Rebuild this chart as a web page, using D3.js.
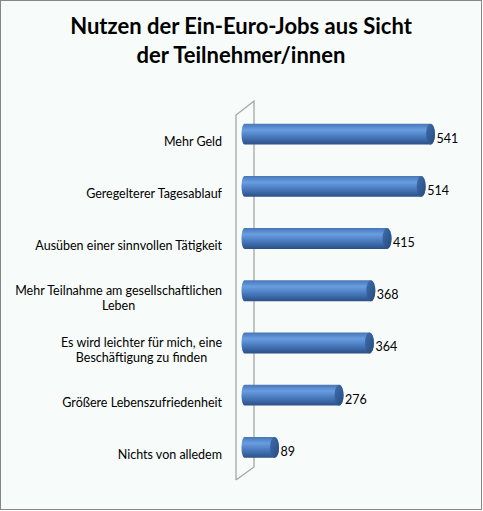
<!DOCTYPE html>
<html>
<head>
<meta charset="utf-8">
<script src="https://cdn.jsdelivr.net/npm/d3@7"></script>
<style>
  body { margin: 0; background: #fff; }
  svg { display: block; font-family: Lato, "Liberation Sans", sans-serif; }
</style>
</head>
<body>
<svg id="chart" width="483" height="511"></svg>
<script>
// data
const categories = [
    ["Mehr Geld"],
    ["Geregelterer Tagesablauf"],
    ["Ausüben einer sinnvollen Tätigkeit"],
    ["Mehr Teilnahme am gesellschaftlichen", "Leben"],
    ["Es wird leichter für mich, eine", "Beschäftigung zu finden"],
    ["Größere Lebenszufriedenheit"],
    ["Nichts von alledem"]
];
const values = [541, 514, 415, 368, 364, 276, 89];
const titleLines = ["Nutzen der Ein-Euro-Jobs aus Sicht", "der Teilnehmer/innen"];

const width = 483, height = 511;
const svg = d3.select("#chart");

// gradients for the cylinders
const defs = svg.append("defs");
let g1 = defs.append("linearGradient").attr("id", "barGrad")
    .attr("x1", 0).attr("y1", 0).attr("x2", 0).attr("y2", 1);
g1.append("stop").attr("offset", "0%").attr("stop-color", "#4576b8");
g1.append("stop").attr("offset", "30%").attr("stop-color", "#6a9ee0");
g1.append("stop").attr("offset", "55%").attr("stop-color", "#4f82c6");
g1.append("stop").attr("offset", "100%").attr("stop-color", "#2b5088");
let g2 = defs.append("linearGradient").attr("id", "capGrad")
    .attr("x1", 0).attr("y1", 0).attr("x2", 1).attr("y2", 1);
g2.append("stop").attr("offset", "0%").attr("stop-color", "#3f6fae");
g2.append("stop").attr("offset", "100%").attr("stop-color", "#27497c");

// frame
svg.append("rect")
    .attr("x", 0.5).attr("y", 0.5)
    .attr("width", width - 2).attr("height", height - 2)
    .attr("fill", "#f7fbf9").attr("stroke", "#868686");

// title
svg.append("g").selectAll("text").data(titleLines).enter().append("text")
    .attr("x", 241)
    .attr("y", (d, i) => 34 + i * 29)
    .attr("text-anchor", "middle")
    .attr("font-size", 22)
    .attr("font-weight", "bold")
    .attr("fill", "#000")
    .text(d => d);

// scales
const x = d3.scaleLinear().domain([0, 541]).range([248.3, 435]);
const y = d3.scaleBand().domain(d3.range(values.length)).range([108, 473.5])
    .paddingInner(0.6).paddingOuter(0.3);

// 3D wall
const wall = svg.append("g").attr("fill", "none").attr("stroke", "#a6a6a6").attr("stroke-width", 1.3);
wall.append("path")
    .attr("d", `M${236},${480} L${236},${115} L${254},${101} L${254},${467} L${236},${480}`);

// bars
const bars = svg.append("g");
values.forEach((v, i) => {
    const y0 = y(i), h = y.bandwidth();
    const x0 = 241.5, x1 = x(v);
    const r = 4.5;
    bars.append("path")
        .attr("d", `M${x0 + 3},${y0} L${x1 - r},${y0} A${r},${h / 2} 0 0 1 ${x1 - r},${y0 + h} L${x0 + 3},${y0 + h} A3,${h / 2} 0 0 1 ${x0 + 3},${y0}Z`)
        .attr("fill", "url(#barGrad)");
    bars.append("ellipse")
        .attr("cx", x1 - r).attr("cy", y0 + h / 2)
        .attr("rx", r).attr("ry", h / 2)
        .attr("fill", "url(#capGrad)");
});

// value labels
svg.append("g").selectAll("text").data(values).enter().append("text")
    .attr("x", d => x(d) + 1.5)
    .attr("y", (d, i) => y(i) + y.bandwidth() / 2 + 8.5)
    .attr("font-size", 12.5)
    .attr("fill", "#000")
    .text(d => d);

// category labels, right aligned block, lines centered
const labelRight = 222;
categories.forEach((lines, i) => {
    const g = svg.append("g");
    const cy = y(i) + y.bandwidth() / 2 + 7;
    const lh = 15;
    const texts = g.selectAll("text").data(lines).enter().append("text")
        .attr("font-size", 12.5)
        .attr("fill", "#000")
        .attr("text-anchor", "middle")
        .attr("y", (d, j) => cy + (j - (lines.length - 1) / 2) * lh + 4.5)
        .text(d => d);
    let maxW = 0;
    texts.each(function() { maxW = Math.max(maxW, this.getComputedTextLength()); });
    texts.attr("x", labelRight - maxW / 2);
});
</script>
</body>
</html>
